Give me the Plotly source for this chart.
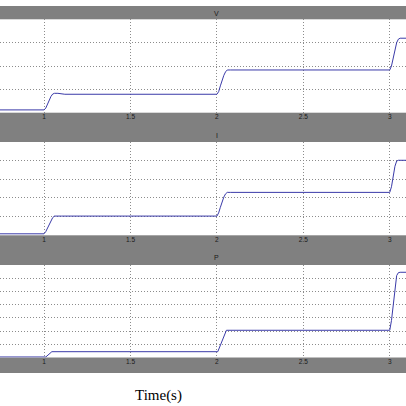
import plotly.graph_objects as go

# scope readings (time in s, value in grid units)
t_v = [0.70, 1.00, 1.01, 1.02, 1.03, 1.04, 1.05, 1.06, 1.08, 1.10, 1.12,
       2.00, 2.01, 2.02, 2.03, 2.04, 2.05, 2.06, 2.08,
       3.00, 3.01, 3.02, 3.03, 3.04, 3.05, 3.06, 3.12]
v = [0.12, 0.12, 0.2, 0.38, 0.55, 0.7, 0.8, 0.83, 0.83, 0.8, 0.79,
     0.79, 0.9, 1.15, 1.4, 1.6, 1.75, 1.83, 1.83,
     1.83, 2.0, 2.35, 2.7, 3.0, 3.15, 3.19, 3.19]

t_i = [0.70, 1.00, 1.01, 1.02, 1.03, 1.04, 1.05, 1.06, 1.08, 1.10,
       2.00, 2.01, 2.02, 2.03, 2.04, 2.05, 2.06, 2.08,
       3.00, 3.01, 3.02, 3.03, 3.04, 3.05, 3.12]
i = [0.08, 0.08, 0.2, 0.4, 0.6, 0.8, 0.95, 1.03, 1.05, 1.03,
     1.03, 1.2, 1.5, 1.8, 2.05, 2.22, 2.3, 2.3,
     2.3, 2.6, 3.2, 3.7, 3.98, 4.02, 4.02]

t_p = [0.70, 1.00, 1.01, 1.045, 2.00, 2.005, 2.055,
       3.00, 3.01, 3.02, 3.03, 3.04, 3.05, 3.06, 3.12]
p = [0.04, 0.04, 0.04, 0.44, 0.44, 0.44, 2.06,
     2.06, 2.8, 4.0, 5.3, 6.2, 6.42, 6.45, 6.45]

y_max = [4, 5, 7]
panel_titles = ["V", "I", "P"]
tick_vals = [1, 1.5, 2, 2.5, 3]
tick_text = ["1", "1.5", "2", "2.5", "3"]

W = 406
GRAY = "#808080"
LINE = "#3a3aa8"
DOTS = "1px,2px"

def py(px):
    return 1 - px / W

# white plot areas in pixel rows (top, bottom)
panels = [(19.3, 112.7), (142, 235.3), (265, 357.5)]
title_rows = [13.3, 135.8, 257.7]

fig = go.Figure()
series = [(t_v, v), (t_i, i), (t_p, p)]
for n, (tt, yy) in enumerate(series):
    sfx = "" if n == 0 else str(n + 1)
    fig.add_trace(go.Scatter(x=tt, y=yy, mode="lines",
                             line=dict(color=LINE, width=1),
                             xaxis="x" + sfx, yaxis="y" + sfx,
                             showlegend=False, hoverinfo="skip"))

layout = dict(width=W, height=W, margin=dict(l=0, r=0, t=0, b=0),
              paper_bgcolor=GRAY, plot_bgcolor="white", showlegend=False)

for n, (top, bot) in enumerate(panels):
    sfx = "" if n == 0 else str(n + 1)
    layout["xaxis" + sfx] = dict(
        domain=[0, 1], range=[0.745, 3.094], anchor="y" + sfx,
        tickvals=tick_vals, ticktext=tick_text, ticks="",
        ticklabelstandoff=-1,
        tickfont=dict(size=6.5, color="#1a1a1a", family="Liberation Sans"),
        showgrid=True, gridcolor="#8c8c8c", griddash=DOTS, gridwidth=1,
        zeroline=False, showline=False, fixedrange=True)
    layout["yaxis" + sfx] = dict(
        domain=[py(bot), py(top)], range=[0, y_max[n]], anchor="x" + sfx,
        dtick=1, showticklabels=False, ticks="",
        showgrid=True, gridcolor="#8c8c8c", griddash=DOTS, gridwidth=1,
        zeroline=False, showline=False, fixedrange=True)

fig.update_layout(**layout)

# white strips above and below the scope window
fig.add_shape(type="rect", xref="paper", yref="paper", x0=0, x1=1,
              y0=py(6), y1=1, fillcolor="white", line_width=0, layer="below")
fig.add_shape(type="rect", xref="paper", yref="paper", x0=0, x1=1,
              y0=0, y1=py(373), fillcolor="white", line_width=0, layer="below")

for name, row in zip(panel_titles, title_rows):
    fig.add_annotation(x=2, xref="x", y=py(row), yref="paper", text=name,
                       showarrow=False, yanchor="middle",
                       font=dict(size=7, color="#1a1a1a", family="Liberation Sans"))

fig.add_annotation(x=158.5 / W, xref="paper", y=py(395.7), yref="paper",
                   text="Time(s)", showarrow=False, yanchor="middle",
                   font=dict(size=15, color="black", family="Liberation Serif"))

fig.write_html("out.html", config=dict(displayModeBar=False),
               post_script="document.body.style.margin='0';")
